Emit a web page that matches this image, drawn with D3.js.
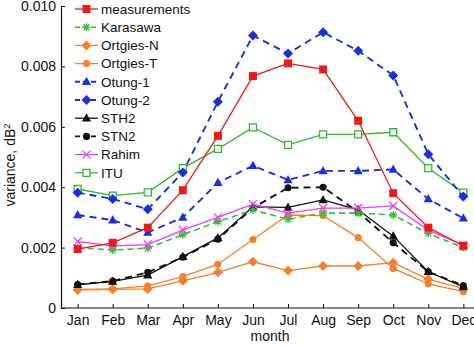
<!DOCTYPE html>
<html><head><meta charset="utf-8">
<script src="https://cdn.jsdelivr.net/npm/d3@7"></script>
<style>body{margin:0;background:#fff}svg{display:block}text{font-family:"Liberation Sans",Arial,sans-serif;fill:#111}</style>
</head><body><svg id="c" width="474" height="345"></svg>
<script>
const months = ["Jan","Feb","Mar","Apr","May","Jun","Jul","Aug","Sep","Oct","Nov","Dec"];
const yTicks = [0,0.002,0.004,0.006,0.008,0.010];
const yTickLabels = ["0","0.002","0.004","0.006","0.008","0.010"];
const measurements = [0.00195,0.00216,0.00266,0.0039,0.0057,0.00768,0.0081,0.0079,0.0062,0.0038,0.00266,0.00206];
const karasawa = [0.0020,0.00192,0.00198,0.00243,0.00286,0.00325,0.00294,0.00314,0.00314,0.00308,0.00247,0.0020];
const ortgiesN = [0.0006,0.00062,0.00063,0.0009,0.00118,0.00153,0.00124,0.00139,0.00139,0.0015,0.00095,0.00065];
const ortgiesT = [0.00062,0.00063,0.00073,0.00104,0.00145,0.00227,0.00308,0.00306,0.00233,0.00131,0.0008,0.00054];
const otung1 = [0.00308,0.00291,0.0025,0.0030,0.00415,0.00471,0.00424,0.00454,0.00454,0.00459,0.00361,0.00297];
const otung2 = [0.00382,0.00361,0.00327,0.00449,0.00683,0.00902,0.00843,0.00913,0.00852,0.0077,0.00509,0.00369];
const sth2 = [0.00077,0.00088,0.00109,0.0017,0.00232,0.00335,0.00333,0.00358,0.00325,0.00238,0.0012,0.0007];
const stn2 = [0.00078,0.00089,0.00118,0.00168,0.00228,0.00332,0.00398,0.0040,0.00318,0.00216,0.0012,0.00074];
const rahim = [0.0022,0.00206,0.0021,0.00258,0.0030,0.00344,0.00314,0.00331,0.00331,0.00338,0.00258,0.00208];
const itu = [0.00394,0.00372,0.00383,0.00463,0.00527,0.00598,0.0054,0.00575,0.00575,0.00582,0.00463,0.00382];

const series = [
 {name:"measurements", values:measurements, color:"#f01818", dash:null, w:1.3, marker:"square"},
 {name:"Karasawa", values:karasawa, color:"#30c030", dash:"6,4", w:1.6, marker:"asterisk"},
 {name:"Ortgies-N", values:ortgiesN, color:"#f5802a", dash:null, w:1.3, marker:"diamond"},
 {name:"Ortgies-T", values:ortgiesT, color:"#f5802a", dash:null, w:1.3, marker:"circle"},
 {name:"Otung-1", values:otung1, color:"#1a2ee0", dash:"7,5", w:1.9, marker:"triangle"},
 {name:"Otung-2", values:otung2, color:"#1a2ee0", dash:"7,5", w:1.9, marker:"diamond"},
 {name:"STH2", values:sth2, color:"#111", dash:null, w:1.3, marker:"triangle"},
 {name:"STN2", values:stn2, color:"#111", dash:"7,5", w:1.9, marker:"circle"},
 {name:"Rahim", values:rahim, color:"#ee3cee", dash:null, w:1.3, marker:"x"},
 {name:"ITU", values:itu, color:"#2db82d", dash:null, w:1.3, marker:"opensquare"}
];

const svg = d3.select("#c");
const x = d3.scalePoint().domain(months).range([61,480]).padding(0.475);
const y = d3.scaleLinear().domain([0,0.010]).range([308,6]);

function markerPath(type){
  switch(type){
    case "square": return "M-4,-4H4V4H-4Z";
    case "opensquare": return "M-3.5,-3.5H3.5V3.5H-3.5Z";
    case "diamond": return "M0,-5L5,0L0,5L-5,0Z";
    case "triangle": return "M0,-5L4.6,3.3L-4.6,3.3Z";
    case "circle": return d3.symbol(d3.symbolCircle,40)();
    case "asterisk": return "M-4,0H4M0,-4V4M-3,-3L3,3M-3,3L3,-3";
    case "x": return "M-4,-4L4,4M-4,4L4,-4";
  }
}
function drawMarker(g, type, color){
  const p = g.append("path").attr("d", markerPath(type));
  if(type==="asterisk"||type==="x") p.attr("fill","none").attr("stroke",color).attr("stroke-width",1.3);
  else if(type==="opensquare") p.attr("fill","#fff").attr("stroke",color).attr("stroke-width",1.3);
  else p.attr("fill",color);
}

// axes
const ya = d3.axisLeft(y).tickValues(yTicks).tickSize(-4).tickPadding(5).tickFormat((d,i)=>yTickLabels[i]);
const ga = svg.append("g").attr("transform","translate(61,0)").call(ya);
const xa = d3.axisBottom(x).tickSize(-4).tickPadding(7);
const gx = svg.append("g").attr("transform","translate(0,308)").call(xa);
[ga,gx].forEach(g=>{
  g.select(".domain").attr("stroke","#111").attr("stroke-width",1.2);
  g.selectAll(".tick line").attr("stroke","#111");
  g.selectAll("text").attr("font-size",14).attr("fill","#111").style("font-family",'"Liberation Sans",Arial,sans-serif');
});
gx.select(".domain").attr("d","M61,0H480");

svg.append("text").attr("x",270).attr("y",341).attr("text-anchor","middle").attr("font-size",14).text("month");
const yt = svg.append("text").attr("transform","translate(15,165) rotate(-90)").attr("text-anchor","middle").attr("font-size",14);
yt.append("tspan").text("variance, dB");
yt.append("tspan").attr("dy",-5).attr("font-size",9.5).text("2");

// series
const line = d3.line().x((d,i)=>x(months[i])).y(d=>y(d));
const drawOrder = [3,2,6,7,1,8,9,4,0,5];
drawOrder.forEach(k=>{
  const s = series[k];
  const g = svg.append("g");
  g.append("path").attr("d", line(s.values)).attr("fill","none").attr("stroke",s.color)
   .attr("stroke-width",s.w).attr("stroke-dasharray",s.dash);
  s.values.forEach((v,i)=>{
    const mg = g.append("g").attr("transform",`translate(${x(months[i])},${y(v)})`);
    drawMarker(mg, s.marker, s.color);
  });
});

// legend
const lg = svg.append("g");
series.forEach((s,i)=>{
  const yy = 9 + i*18.2;
  lg.append("line").attr("x1",75).attr("x2",98).attr("y1",yy).attr("y2",yy)
    .attr("stroke",s.color).attr("stroke-width",s.w).attr("stroke-dasharray",s.dash?"5,3":null);
  const mg = lg.append("g").attr("transform",`translate(86.5,${yy})`);
  drawMarker(mg, s.marker, s.color);
  lg.append("text").attr("x",101).attr("y",yy+4.8).attr("font-size",13.5).text(s.name);
});
</script></body></html>
